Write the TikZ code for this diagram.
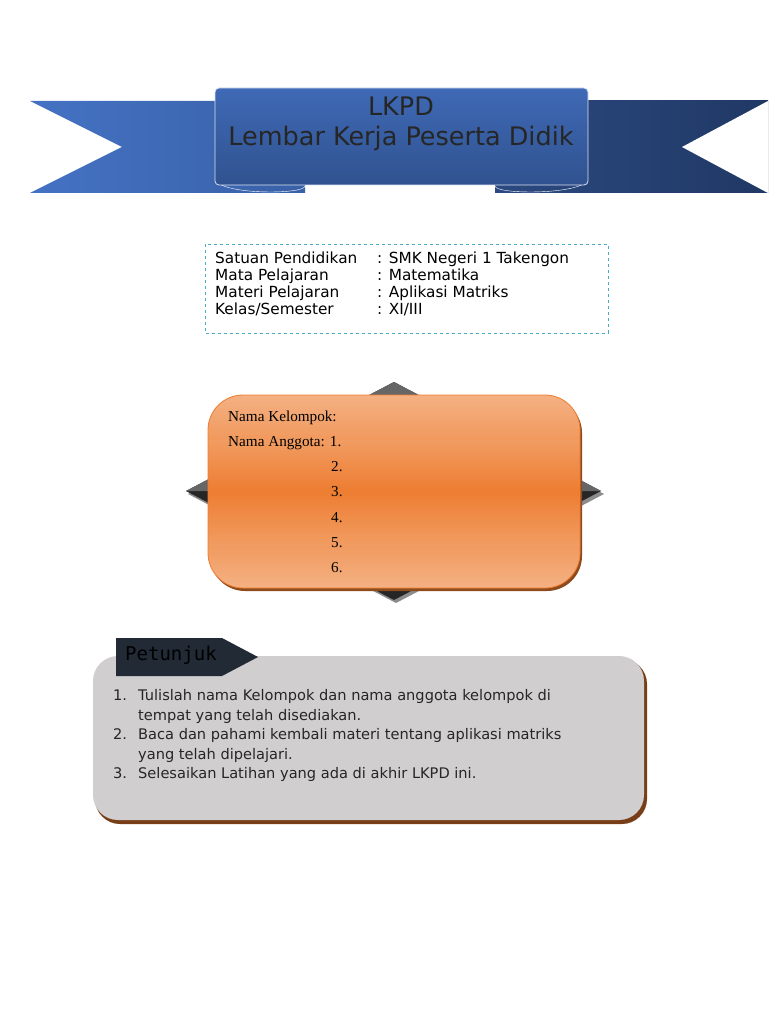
\documentclass[tikz,border=0pt]{standalone}
\usepackage{fontspec}
\setmainfont{DejaVu Sans}
\newfontfamily\serifx{Liberation Serif}
\newfontfamily\monox{DejaVu Sans Mono}
\definecolor{bluA}{HTML}{4472C4}
\definecolor{bluB}{HTML}{203864}
\definecolor{orA}{HTML}{F4B183}
\definecolor{orB}{HTML}{ED7D31}
\definecolor{cyn}{HTML}{4BACC6}
\definecolor{navy}{HTML}{222A35}
\definecolor{grayb}{HTML}{D0CECE}
\tikzset{infotxt/.style={anchor=base west,font=\fontsize{15.3}{17}\selectfont,inner sep=0pt},
 listtxt/.style={anchor=base west,font=\fontsize{14.6}{16}\selectfont,inner sep=0pt,text=black!85},
 kel/.style={anchor=base west,font=\serifx\fontsize{15.2}{17}\selectfont,inner sep=0pt}}
\begin{document}
\begin{tikzpicture}[x=1pt,y=-1pt]
\useasboundingbox (0,0) rectangle (768,1024);
% banner tails
\shade[left color=bluA,right color=bluA!70!bluB] (30,101) -- (305,101) -- (305,193) -- (30,193) -- (122,147) -- cycle;
\shade[left color=bluA!30!bluB,right color=bluB] (495,101) -- (768,101) -- (768,193) -- (495,193) -- cycle;
\fill[white] (768,101) -- (682,147) -- (768,193) -- cycle;
\draw[white,thin] (215,178) .. controls (215,195) and (305,195) .. (305,186);
\draw[white,thin] (588,178) .. controls (588,195) and (495,195) .. (495,186);
% main band
\shade[top color=bluA!85!bluB,bottom color=bluA!45!bluB,draw=white!80!bluA,line width=0.8pt,rounded corners=4pt] (215,88) rectangle (588,185);
\node (t1) at (401,106) {\fontsize{25.5}{28}\selectfont\color{black!85}LKPD};
\node (t2) at (401,138) {\fontsize{25.5}{28}\selectfont\color{black!85}Lembar Kerja Peserta Didik};
% info box
\draw[cyn,dashed,line width=0.6pt] (205,244) rectangle (608,333);
\node[infotxt] (i1) at (215,263) {Satuan Pendidikan};
\node[infotxt] (i2) at (215,280) {Mata Pelajaran};
\node[infotxt] (i3) at (215,297) {Materi Pelajaran};
\node[infotxt] (i4) at (215,314) {Kelas/Semester};
\node[infotxt] (v1) at (377,263) {: SMK Negeri 1 Takengon};
\node[infotxt] (v2) at (377,280) {: Matematika};
\node[infotxt] (v3) at (377,297) {: Aplikasi Matriks};
\node[infotxt] (v4) at (377,314) {: XI/III};
% diamond
\fill[black!45] (396,385) -- (604,494) -- (396,603) -- (188,494) -- cycle;
\fill[black!85] (394,382) -- (601,491) -- (394,600) -- (186,491) -- cycle;
\fill[black!60] (394,382) -- (601,491) -- (186,491) -- cycle;
% orange box
\fill[orB!60!black,rounded corners=35pt] (210,398) rectangle (582,591);
\shade[top color=orA,bottom color=orB,rounded corners=35pt] (208,395) rectangle (580,491.5);
\shade[top color=orB,bottom color=orA,rounded corners=35pt] (208,490) rectangle (580,588);
\shade[top color=orA!60!orB,bottom color=orB] (208,440) rectangle (580,491);
\shade[top color=orB,bottom color=orA!60!orB] (208,490) rectangle (580,545);
\draw[orB,line width=0.8pt,rounded corners=35pt] (208,395) rectangle (580,588);
\node[kel] (k0) at (228,421) {Nama Kelompok:};
\node[kel] (k1) at (228,446) {Nama Anggota: 1.};
\foreach \n/\y in {2/471,3/496,4/522,5/547,6/572}
  \node[kel] (k\n) at (331,\y) {\n.};
% petunjuk box
\fill[orB!50!black,rounded corners=25pt] (95,659) rectangle (647,824);
\fill[grayb,rounded corners=25pt] (93,656) rectangle (644,820);
\fill[navy] (116,638) -- (222,638) -- (258,657) -- (222,676) -- (116,676) -- cycle;
\node[anchor=west,inner sep=0pt,text=black,font=\monox\fontsize{19}{22}\selectfont] (pt) at (125,655) {Petunjuk};
\node[listtxt] (n1) at (113,700) {1.};
\node[listtxt] (l1) at (138,700) {Tulislah nama Kelompok dan nama anggota kelompok di};
\node[listtxt] (l1b) at (138,720) {tempat yang telah disediakan.};
\node[listtxt] (n2) at (113,739) {2.};
\node[listtxt] (l2) at (138,739) {Baca dan pahami kembali materi tentang aplikasi matriks};
\node[listtxt] (l2b) at (138,759) {yang telah dipelajari.};
\node[listtxt] (n3) at (113,778) {3.};
\node[listtxt] (l3) at (138,778) {Selesaikan Latihan yang ada di akhir LKPD ini.};
\end{tikzpicture}
\end{document}
